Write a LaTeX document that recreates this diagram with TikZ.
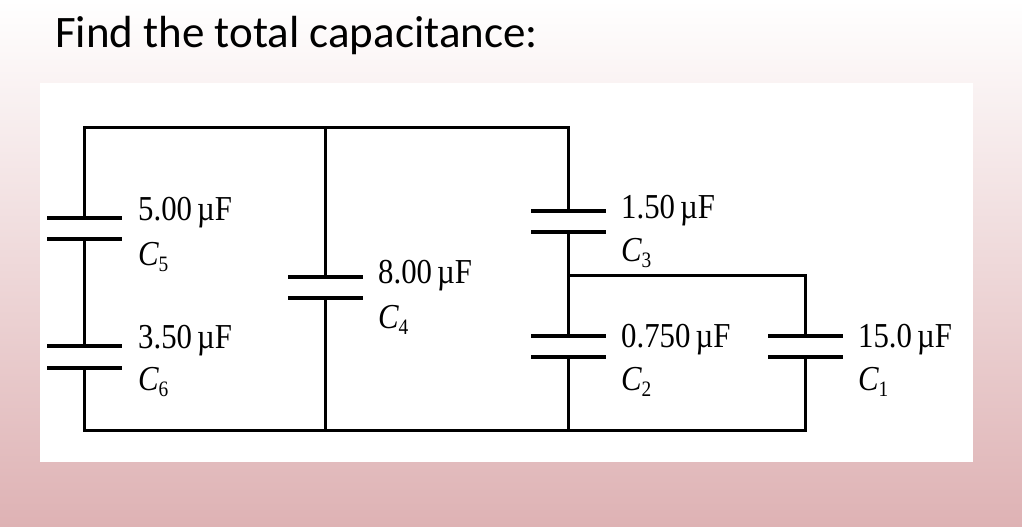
\documentclass[tikz,border=0pt]{standalone}
\usepackage{fontspec}
\setmainfont{Liberation Serif}
\newfontfamily\titlefont{Carlito}
\definecolor{pinkbot}{RGB}{222,178,180}
\definecolor{pinkmid}{RGB}{248,240,242}
\begin{document}
\begin{tikzpicture}[x=1pt,y=-1pt,
  wire/.style={line width=3pt},
  plate/.style={line width=3.6pt},
  val/.style={anchor=west,inner sep=0pt,font=\fontsize{35}{36}\selectfont,xscale=0.88},
  nm/.style={anchor=west,inner sep=0pt,font=\fontsize{35}{36}\selectfont\itshape,xscale=0.88}]
\shade[top color=white,middle color=pinkmid,bottom color=pinkbot] (0,0) rectangle (1022,527);
\node[anchor=west,inner sep=0pt,font=\titlefont\fontsize{45}{48}\selectfont] (title) at (55,36) {Find the total capacitance:};
\fill[white] (40,83) rectangle (973,462);
% coordinates
\coordinate (tl) at (84,127); \coordinate (bl) at (84,430);
\coordinate (tm) at (325,127); \coordinate (bm) at (325,430);
\coordinate (tr) at (568,127); \coordinate (br) at (568,430);
\coordinate (jr) at (568,275); \coordinate (jf) at (805,275); \coordinate (bf) at (805,430);
% capacitor plates
\foreach \n/\x/\ya/\yb in {c5/84/218/239, c6/84/346/368, c4/325/277/298, c3/568/211/232, c2/568/336/357, c1/805/336/357}{
  \coordinate (\n a) at (\x,\ya); \coordinate (\n b) at (\x,\yb);
  \draw[plate] ([xshift=-37pt]\n a) -- ([xshift=38pt]\n a);
  \draw[plate] ([xshift=-37pt]\n b) -- ([xshift=38pt]\n b);
}
\draw[wire] (c5a) -- (tl) -- (tm) -- (tr) -- (c3a);
\draw[wire] (c5b) -- (c6a);
\draw[wire] (c6b) -- (bl) -- (bm) -- (br) -- (bf) -- (c1b);
\draw[wire] (tm) -- (c4a); \draw[wire] (c4b) -- (bm);
\draw[wire] (c3b) -- (c2a); \draw[wire] (c2b) -- (br);
\draw[wire] (jr) -- (jf) -- (c1a);
% labels
\node[val] (v5) at (138,213) {5.00\,µF}; \node[nm] (n5) at (138,257) {C\raisebox{-6pt}{\fontsize{22}{22}\selectfont\upshape 5}};
\node[val] (v6) at (138,341) {3.50\,µF}; \node[nm] (n6) at (138,382) {C\raisebox{-6pt}{\fontsize{22}{22}\selectfont\upshape 6}};
\node[val] (v4) at (378,276) {8.00\,µF}; \node[nm] (n4) at (378,320) {C\raisebox{-6pt}{\fontsize{22}{22}\selectfont\upshape 4}};
\node[val] (v3) at (621,211) {1.50\,µF}; \node[nm] (n3) at (621,253) {C\raisebox{-6pt}{\fontsize{22}{22}\selectfont\upshape 3}};
\node[val] (v2) at (621,340) {0.750\,µF}; \node[nm] (n2) at (621,382) {C\raisebox{-6pt}{\fontsize{22}{22}\selectfont\upshape 2}};
\node[val] (v1) at (858,340) {15.0\,µF}; \node[nm] (n1) at (858,382) {C\raisebox{-6pt}{\fontsize{22}{22}\selectfont\upshape 1}};
\end{tikzpicture}
\end{document}
